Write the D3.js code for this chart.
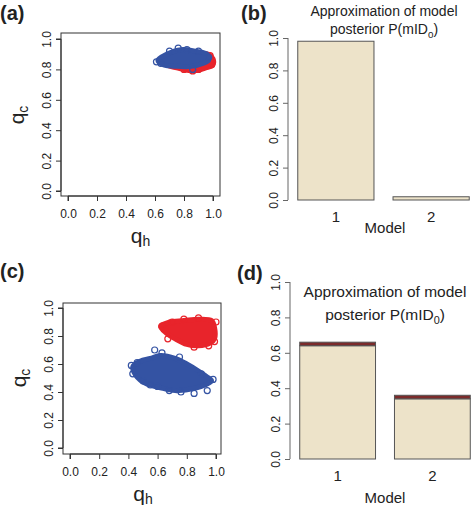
<!DOCTYPE html>
<html><head><meta charset="utf-8">
<script src="https://cdn.jsdelivr.net/npm/d3@7"></script>
<style>body{margin:0;background:#fff}text{font-family:"Liberation Sans",Arial,sans-serif;fill:#222}</style>
</head><body><svg id="c" width="474" height="510"></svg>
<script>
const ticks = [0, 0.2, 0.4, 0.6, 0.8, 1.0];
const models = ["1", "2"];
// panel b
const bMain = [0.98, 0.02];
const bErr = [0, 0];
// panel d
const dMain = [0.64, 0.34];
const dErr = [0.02, 0.02];
// cloud bodies (qh,qc) and edge points
const aRedBody = [[0.66,0.86],[0.72,0.89],[0.85,0.9],[0.97,0.9],[1.0,0.87],[1.0,0.83],[0.95,0.81],[0.86,0.79],[0.75,0.81],[0.68,0.83]];
const aRedPts = [[0.99,0.86],[0.99,0.83],[0.86,0.79],[0.9,0.8],[0.8,0.8],[0.98,0.89]];
const aBlueBody = [[0.62,0.86],[0.68,0.9],[0.78,0.93],[0.88,0.92],[0.96,0.9],[0.97,0.86],[0.93,0.84],[0.85,0.82],[0.75,0.82],[0.66,0.83]];
const aBluePts = [[0.61,0.85],[0.76,0.94],[0.86,0.8],[0.97,0.88],[0.9,0.92],[0.7,0.92],[0.64,0.84],[0.82,0.93]];
const cRedBody = [[0.62,0.87],[0.68,0.9],[0.78,0.91],[0.88,0.92],[0.97,0.91],[0.99,0.86],[0.99,0.78],[0.96,0.75],[0.88,0.73],[0.8,0.74],[0.72,0.78],[0.66,0.82]];
const cRedPts = [[0.63,0.87],[0.67,0.78],[0.85,0.72],[0.99,0.76],[1.0,0.9],[0.88,0.93],[0.78,0.92],[0.7,0.9],[0.95,0.73],[0.65,0.85]];
const cBlueBody = [[0.43,0.58],[0.48,0.62],[0.55,0.64],[0.62,0.66],[0.72,0.64],[0.8,0.6],[0.88,0.55],[0.95,0.5],[0.97,0.48],[0.9,0.44],[0.82,0.42],[0.72,0.41],[0.62,0.43],[0.52,0.46],[0.45,0.52]];
const cBluePts = [[0.42,0.59],[0.43,0.53],[0.58,0.70],[0.63,0.68],[0.98,0.49],[0.94,0.41],[0.85,0.39],[0.76,0.40],[0.68,0.41],[0.55,0.45],[0.5,0.48],[0.75,0.65],[0.9,0.53],[0.46,0.61],[0.6,0.44]];

const svg = d3.select("#c");
const RED = "#e8242b", BLUE = "#3453a3";

function label(t, x, y) { svg.append("text").attr("x", x).attr("y", y).attr("font-size", 20).attr("font-weight", "bold").text(t); }

function scatter(o) {
  const x = d3.scaleLinear().domain([0,1]).range(o.xr);
  const y = d3.scaleLinear().domain([0,1]).range(o.yr);
  const g = svg.append("g");
  const clouds = [[o.redBody,o.redPts,RED],[o.blueBody,o.bluePts,BLUE]];
  const line = d3.line().x(d=>x(d[0])).y(d=>y(d[1])).curve(d3.curveCatmullRomClosed);
  for (const [body, pts, col] of clouds) {
    g.append("path").attr("d", line(body)).attr("fill", col).attr("stroke", col).attr("stroke-width", 5);
    g.selectAll(null).data(pts).join("circle").attr("cx", d=>x(d[0])).attr("cy", d=>y(d[1])).attr("r", 3)
      .attr("fill", "none").attr("stroke", col).attr("stroke-width", 1.2);
  }
  g.append("rect").attr("x", o.box[0]).attr("y", o.box[1]).attr("width", o.box[2]-o.box[0]).attr("height", o.box[3]-o.box[1])
    .attr("fill", "none").attr("stroke", "#333").attr("stroke-width", 1);
  const xa = g.append("g").attr("transform", `translate(0,${o.box[3]})`)
    .call(d3.axisBottom(x).tickValues(ticks).tickFormat(d3.format(".1f")).tickSize(5).tickPadding(8));
  const ya = g.append("g").attr("transform", `translate(${o.box[0]},0)`)
    .call(d3.axisLeft(y).tickValues(ticks).tickFormat(d3.format(".1f")).tickSize(5).tickPadding(4));
  for (const a of [xa, ya]) { a.selectAll("text").attr("font-size", 12).attr("fill", "#222").attr("font-family", "Liberation Sans, Arial"); a.selectAll("line,path").attr("stroke", "#333"); }
  ya.selectAll(".tick text").attr("transform", "rotate(-90)").attr("text-anchor", "middle").attr("x", 0).attr("y", -10).attr("dy", 0);
  ya.select(".domain").attr("d", `M-5,${y(0)}H0V${y(1)}H-5`);
  xa.select(".domain").attr("d", `M${x(0)},5V0H${x(1)}V5`);
  const qh = svg.append("text").attr("x", (o.xr[0]+o.xr[1])/2).attr("y", o.box[3]+47).attr("text-anchor","middle").attr("font-size", 21);
  qh.append("tspan").text("q"); qh.append("tspan").attr("font-size", 14).attr("dy", 3).text("h");
  const qc = svg.append("text").attr("transform", `translate(${o.box[0]-37},${(o.yr[0]+o.yr[1])/2}) rotate(-90)`).attr("text-anchor","middle").attr("font-size", 21);
  qc.append("tspan").text("q"); qc.append("tspan").attr("font-size", 14).attr("dy", 4).text("c");
}

function bars(o) {
  const x = d3.scaleBand().domain(models).range(o.xr).paddingInner(0.2).paddingOuter(0.05);
  const y = d3.scaleLinear().domain([0,1]).range(o.yr);
  const g = svg.append("g");
  g.selectAll(null).data(models).join("rect").attr("x", d=>x(d)).attr("width", x.bandwidth())
    .attr("y", (d,i)=>y(o.main[i])).attr("height", (d,i)=>y(0)-y(o.main[i]))
    .attr("fill", "#ede3c9").attr("stroke", "#555").attr("stroke-width", 1);
  g.selectAll(null).data(models).join("rect").attr("x", d=>x(d)).attr("width", x.bandwidth())
    .attr("y", (d,i)=>y(o.main[i]+o.err[i])).attr("height", (d,i)=>y(o.main[i])-y(o.main[i]+o.err[i]))
    .attr("fill", "#7b2b2b").attr("stroke", "#555").attr("stroke-width", 1);
  const ya = g.append("g").attr("transform", `translate(${o.ax},0)`)
    .call(d3.axisLeft(y).tickValues(ticks).tickFormat(d3.format(".1f")).tickSize(5).tickPadding(4));
  ya.selectAll("text").attr("font-size", 12).attr("fill", "#222").attr("font-family", "Liberation Sans, Arial")
    .attr("transform", "rotate(-90)").attr("text-anchor", "middle").attr("x", 0).attr("y", -10).attr("dy", 0);
  ya.selectAll("line,path").attr("stroke", "#666");
  ya.select(".domain").attr("d", `M0,${y(0)}V${y(1)}`);
  g.selectAll(null).data(models).join("text").attr("x", d=>x(d)+x.bandwidth()/2).attr("y", y(0)+22)
    .attr("text-anchor","middle").attr("font-size", 15).text(d=>d);
  svg.append("text").attr("x", o.modelX).attr("y", o.modelY).attr("text-anchor","middle").attr("font-size", 15).text("Model");
  svg.append("text").attr("x", o.tx).attr("y", o.ty).attr("text-anchor","middle").attr("font-size", o.tfs).text("Approximation of model");
  const t2 = svg.append("text").attr("x", o.tx).attr("y", o.ty+o.tl).attr("text-anchor","middle").attr("font-size", o.tfs);
  t2.append("tspan").text("posterior P(mID");
  t2.append("tspan").attr("font-size", o.tfs*0.7).attr("dy", 4).text("0");
  t2.append("tspan").attr("dy", -4).text(")");
}

label("(a)", 0, 20);
label("(b)", 241, 20);
label("(c)", 0, 278);
label("(d)", 237, 280);
scatter({xr:[68,213], yr:[191,39], box:[61,33,220,196], redBody:aRedBody, redPts:aRedPts, blueBody:aBlueBody, bluePts:aBluePts});
scatter({xr:[70,216], yr:[448,308], box:[63,303,221,454], redBody:cRedBody, redPts:cRedPts, blueBody:cBlueBody, bluePts:cBluePts});
bars({xr:[293,474], yr:[200,38], ax:288, main:bMain, err:bErr, modelX:385, modelY:233, tx:384, ty:16, tl:18, tfs:14});
bars({xr:[295,475], yr:[459,282], ax:290, main:dMain, err:dErr, modelX:385, modelY:503, tx:385, ty:297, tl:23, tfs:15.5});
</script></body></html>
